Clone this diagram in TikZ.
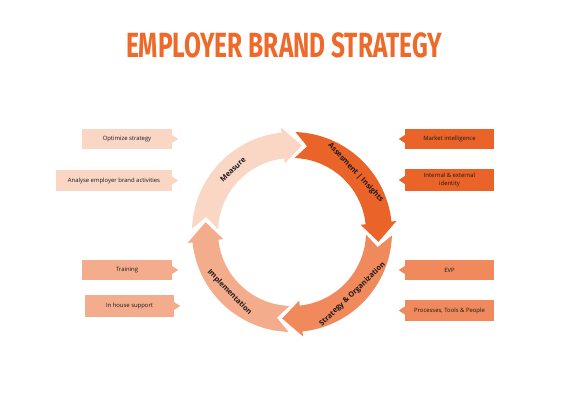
\documentclass[tikz,border=0pt]{standalone}
\usepackage{fontspec}
\setmainfont{Open Sans}
\newfontfamily\titlefont{Fira Sans}[FakeStretch=0.7]
\usepackage{tikz}
\usetikzlibrary{positioning}
\definecolor{titlecolor}{RGB}{238, 106, 42}
\definecolor{measurecolor}{RGB}{250, 214, 197}
\definecolor{assesscolor}{RGB}{234, 99, 40}
\definecolor{strategycolor}{RGB}{240, 138, 92}
\definecolor{implcolor}{RGB}{244, 173, 140}

\begin{document}
\begin{tikzpicture}[
    x=1pt, y=1pt,
    box/.style={rectangle, minimum width=89pt, minimum height=20pt, inner sep=1pt, align=center, text=black!90, font=\fontsize{5.9}{7.2}\selectfont},
    cyclelabel/.style={font=\bfseries\fontsize{7.4}{8.5}\selectfont, text=black!90, inner sep=0pt}
]
    \useasboundingbox (0, 0) rectangle (570, 403);

    % Title
    \node[font=\titlefont\bfseries\fontsize{35}{40}\selectfont, text=titlecolor] (title) at (284, 358) {EMPLOYER BRAND STRATEGY};

    % Cycle
    \begin{scope}[shift={(292, 171)}]
        \foreach \s/\col in {178/measurecolor, 88/assesscolor, -2/strategycolor, -92/implcolor}
            \fill[\col] (\s:100pt) arc[start angle=\s, end angle=\s-82, radius=100pt]
                -- ({\s-82}:105pt) -- ({\s-94.5}:87pt) -- ({\s-82}:69pt) -- ({\s-82}:74pt)
                arc[start angle=\s-82, end angle=\s, radius=74pt] -- ({\s-8}:87pt) -- cycle;
        \node[cyclelabel, rotate=43.5] (measure) at (133.5:86pt) {Measure};
        \node[cyclelabel, rotate=-47] (assess) at (43:87pt) {Assesment | Insights};
        \node[cyclelabel, rotate=44] (strategy) at (-46:87pt) {Strategy \& Organization};
        \node[cyclelabel, rotate=-46] (impl) at (-136:87pt) {Implementation};
    \end{scope}

    % Left boxes
    \node[box, fill=measurecolor, minimum width=90pt] (optimize) at (127, 264) {Optimize strategy};
    \node[box, fill=measurecolor, minimum width=116pt, minimum height=21pt] (analyse) at (114, 222.5) {Analyse employer brand activities};
    \node[box, fill=implcolor, minimum width=90pt] (training) at (127, 133) {Training};
    \node[box, fill=implcolor, minimum height=22pt] (inhouse) at (129.5, 97) {In house support};

    % Right boxes
    \node[box, fill=assesscolor] (market) at (449.5, 264) {Market intelligence};
    \node[box, fill=assesscolor, minimum height=22pt] (identity) at (449.5, 223) {Internal \& external\\identity};
    \node[box, fill=strategycolor] (evp) at (449.5, 133) {EVP};
    \node[box, fill=strategycolor, minimum height=21pt] (processes) at (449.5, 92.5) {Processes, Tools \& People};

    % Pointers
    \foreach \b/\col in {optimize/measurecolor, analyse/measurecolor, training/implcolor, inhouse/implcolor}
        \fill[\col] ([yshift=4pt]\b.east) -- ++(6pt, -4pt) -- ++(-6pt, -4pt) -- cycle;
    \foreach \b/\col in {market/assesscolor, identity/assesscolor, evp/strategycolor, processes/strategycolor}
        \fill[\col] ([yshift=4pt]\b.west) -- ++(-6pt, -4pt) -- ++(6pt, -4pt) -- cycle;
\end{tikzpicture}
\end{document}
